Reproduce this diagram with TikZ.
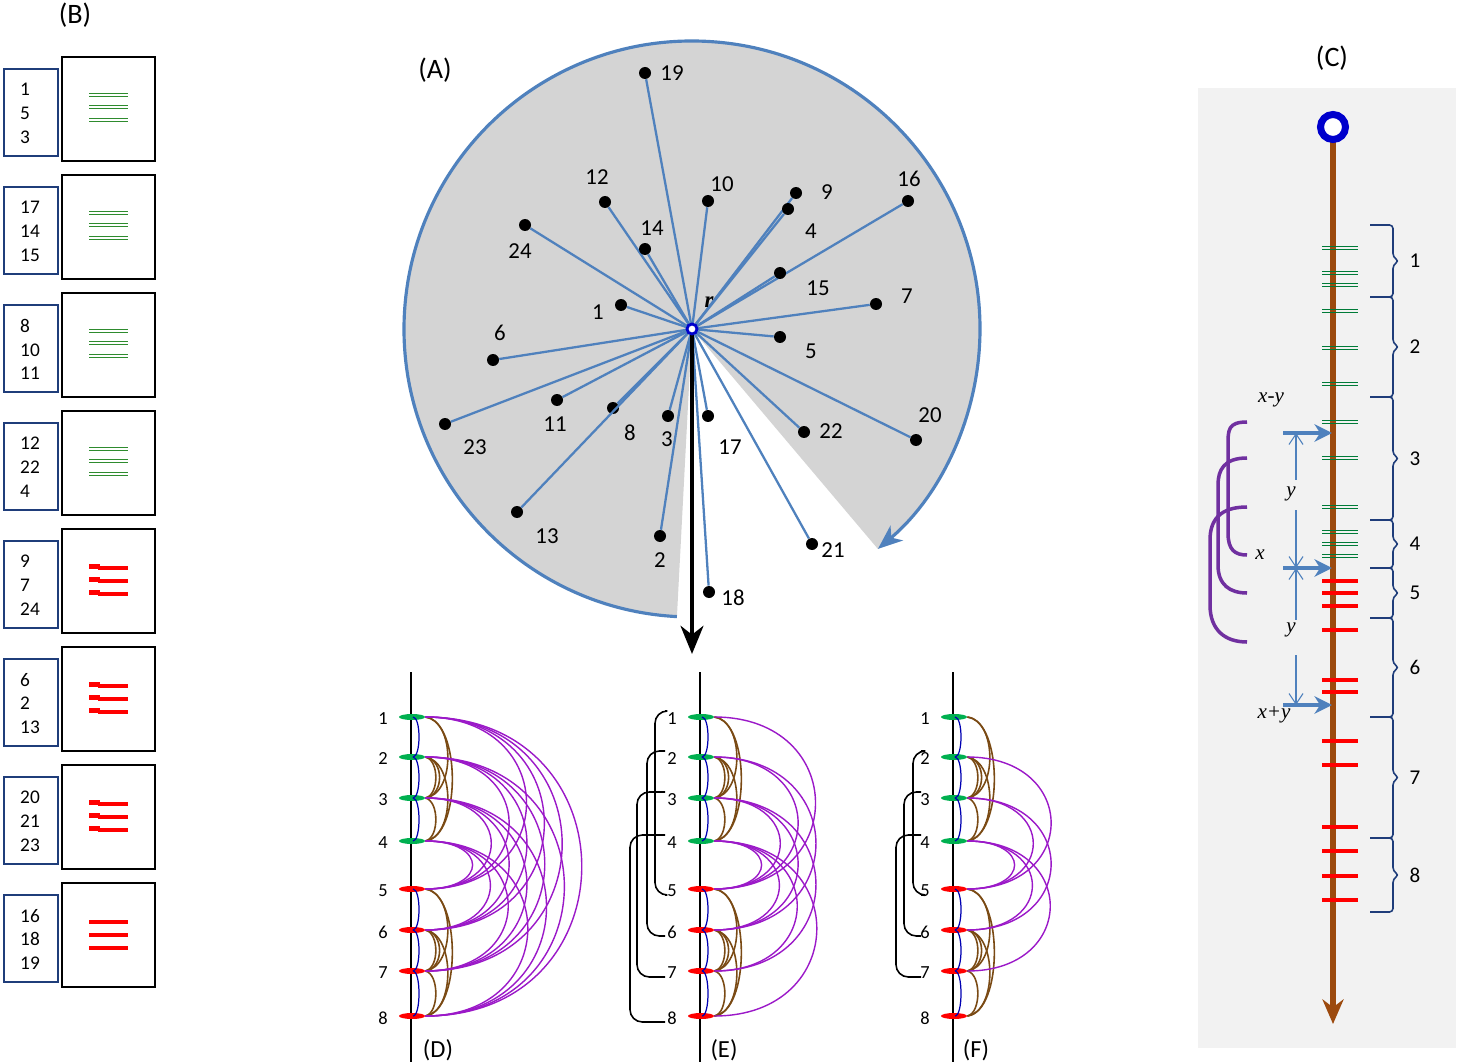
\documentclass[tikz,border=0pt]{standalone}
\usepackage{fontspec}
\setmainfont{Carlito}
\newfontfamily\tms{Liberation Serif}
\usetikzlibrary{arrows.meta,shapes.geometric,calc}
\definecolor{sb}{HTML}{4F81BD}
\definecolor{nv}{HTML}{1F3D7A}
\definecolor{gr}{HTML}{00B050}
\definecolor{dgr}{HTML}{2E8B2E}
\definecolor{pu}{HTML}{9B19C8}
\definecolor{pc}{HTML}{7030A0}
\definecolor{br}{HTML}{7A4A14}
\definecolor{brc}{HTML}{9C4A0E}
\begin{document}
\begin{tikzpicture}[x=0.02cm,y=-0.02cm,
  dot/.style={circle,fill=black,inner sep=0pt,minimum size=0.24cm},
  al/.style={font=\fontsize{13}{15}\selectfont},
  ray/.style={sb,line width=1.3pt},
  bl/.style={font=\fontsize{11}{13.5}\selectfont,align=left,anchor=north west},
  ell/.style={ellipse,inner sep=0pt,minimum width=0.52cm,minimum height=0.12cm},
  dl/.style={font=\fontsize{10.5}{12}\selectfont},
  pa/.style={pu,line width=0.8pt},
  ba/.style={br,line width=0.9pt},
  ua/.style={blue!70!black,line width=0.7pt},
  bk/.style={line width=0.9pt,rounded corners=7pt},
  big/.style={font=\fontsize{16}{18}\selectfont}]
\useasboundingbox (0,0) rectangle (1461,1064);
% ---------- (A)
\node[big] (labA) at (435,70) {(A)};
\coordinate (c) at (692,329);
\fill[black!17] (c) -- ++(93:288) arc[start angle=93,end angle=409.8,radius=288] -- cycle;
\draw[sb,line width=1.8pt,-{Stealth[length=14pt,width=11pt,inset=4pt]}] (c) ++(93:288) arc[start angle=93,end angle=409.8,radius=288] coordinate (aend);
\foreach \n/\px/\py/\lx/\ly in {19/645/73/672/73,12/605/202/597/177,10/708/201/722/184,9/796/193/827/192,4/788/209/811/231,16/908/201/909/179,14/645/249/652/228,24/525/225/520/251,15/780/273/818/288,7/876/304/907/296,1/621/305/598/312,6/493/360/500/333,5/780/337/811/351,11/557/400/555/424,8/613/408/630/433,3/668/416/667/439,17/708/416/730/447,22/804/432/831/431,20/916/440/930/415,23/445/424/475/447,13/517/512/547/536,2/660/536/660/560,21/812/544/833/550,18/709/592/733/598}{
  \node[dot] (p\n) at (\px,\py) {};
  \node[al] (t\n) at (\lx,\ly) {\n};
  \draw[ray] (c) -- (p\n);
}
\coordinate (adown) at (692,654);
\draw[line width=2.4pt,-{Stealth[length=16pt,width=13pt,inset=5pt]}] (c) -- (adown);
\node[circle,draw=blue!80!black,fill=white,line width=1.6pt,inner sep=0pt,minimum size=0.2cm] (cc) at (c) {};
\node[font=\tms\bfseries\itshape\fontsize{13}{15}\selectfont] (rr) at (709,302) {r};
% ---------- (B)
\node[big] (labB) at (75,15) {(B)};
\foreach \i/\txt/\col/\stub in {0/{1\\5\\3}/0/0,1/{17\\14\\15}/0/0,2/{8\\10\\11}/0/0,3/{12\\22\\4}/0/0,4/{9\\7\\24}/1/1,5/{6\\2\\13}/1/1,6/{20\\21\\23}/1/1,7/{16\\18\\19}/1/0}{
  \pgfmathsetmacro\t{57+118*\i}
  \draw[nv,line width=1.2pt] (4,\t+12) rectangle (58,\t+99);
  \draw[black,line width=1.4pt] (62,\t) rectangle (155,\t+104);
  \node[bl] (bt\i) at (14,\t+20) {\txt};
  \ifnum\col=0
    \foreach \d in {38,50,63}{
      \draw[dgr,line width=0.8pt] (89,\t+\d-1.6) -- (128,\t+\d-1.6);
      \draw[dgr,line width=0.8pt] (89,\t+\d+1.6) -- (128,\t+\d+1.6);}
  \else
    \foreach \d in {39,52,65}{
      \draw[red,line width=2.4pt] (98,\t+\d) -- (128,\t+\d);
      \ifnum\stub=1 \draw[red,line width=2.4pt] (89,\t+\d-1.5) -- (100,\t+\d-1.5);
      \else \draw[red,line width=2.4pt] (89,\t+\d) -- (100,\t+\d); \fi}
  \fi
}
% ---------- (C)
\node[big] (labC) at (1332,58) {(C)};
\fill[black!5] (1198,88) rectangle (1456,1048);
\coordinate (ctop) at (1333,127);
\coordinate (cbot) at (1333,1024);
\draw[brc,line width=3.2pt,-{Stealth[length=14pt,width=12pt]}] (ctop) -- (cbot);
\node[circle,draw=blue!80!black,fill=white,line width=4pt,inner sep=0pt,minimum size=0.5cm] (ring) at (ctop) {};
\foreach \y in {248,273,285,311,348,384,422,458,507,532,544,556}{
  \draw[gr!70!black,line width=0.9pt] (1322,\y-1.7) -- (1358,\y-1.7);
  \draw[gr!70!black,line width=0.9pt] (1322,\y+1.7) -- (1358,\y+1.7);}
\foreach \y in {581,593,606,630,680,692,741,765,827,851,876,900}{
  \draw[red,line width=2.2pt] (1322,\y) -- (1358,\y);}
\foreach \a/\b/\lab in {225/297/1,297/397/2,397/520/3,520/568/4,568/618/5,618/717/6,717/838/7,838/912/8}{
  \pgfmathsetmacro\m{(\a+\b)/2}
  \draw[nv,line width=0.9pt,rounded corners=2pt] (1370,\a) -- (1393,\a) -- (1393,\m-4) -- (1399,\m) -- (1393,\m+4) -- (1393,\b) -- (1370,\b);
  \node[font=\fontsize{12}{14}\selectfont] (bl\lab) at (1415,\m) {\lab};
}
\foreach \y/\n in {433/1,568/2,705/3}{
  \coordinate (ba\n) at (1283,\y);
  \coordinate (bb\n) at (1332,\y);
  \draw[sb,line width=2.6pt,-{Stealth[length=10pt,width=10pt]}] (ba\n) -- (bb\n);}
\begin{scope}[sb,line width=0.6pt]
 \draw[{Straight Barb[length=6pt,width=8pt]}-] (1296,433) -- (1296,480);
 \draw[-{Straight Barb[length=6pt,width=8pt]}] (1296,510) -- (1296,568);
 \draw[{Straight Barb[length=6pt,width=8pt]}-] (1296,568) -- (1296,620);
 \draw[-{Straight Barb[length=6pt,width=8pt]}] (1296,655) -- (1296,705);
\end{scope}
\begin{scope}[font=\tms\itshape\fontsize{12}{14}\selectfont]
 \node (lxy) at (1271,400) {x-y};
 \node (ly1) at (1291,494) {y};
 \node (lx) at (1260,555) {x};
 \node (ly2) at (1291,630) {y};
 \node (lxpy) at (1274,715) {x+y};
\end{scope}
\begin{scope}[pc,line width=2pt]
 \draw (1247,422) .. controls (1228,422) and (1228,430) .. (1228,445) -- (1228,533) .. controls (1228,550) and (1235,555) .. (1247,555);
 \draw (1247,458) .. controls (1224,458) and (1218,470) .. (1218,485) -- (1218,565) .. controls (1218,585) and (1230,593) .. (1247,593);
 \draw (1247,507) .. controls (1220,507) and (1210,520) .. (1210,540) -- (1210,605) .. controls (1210,630) and (1225,642) .. (1247,642);
\end{scope}
% ---------- (D),(E),(F)
\foreach \P/\X/\set in {D/411/{1/5,1/6,1/7,1/8,2/5,2/6,2/7,2/8,3/5,3/6,3/7,3/8,4/5,4/6,4/7,4/8},E/700/{1/5,2/5,2/6,3/5,3/6,3/7,4/5,4/6,4/7,4/8},F/953/{2/5,3/5,3/6,4/5,4/6,4/7}}{
  \coordinate (\P top) at (\X,672);
  \coordinate (\P bot) at (\X,1062);
  \draw[line width=1.2pt] (\P top) -- (\P bot);
  \foreach \k/\y in {1/717,2/757,3/798,4/841,5/889,6/930,7/971,8/1016}{
    \ifnum\k<5 \node[ell,fill=gr] (\P\k) at (\X+1,\y) {};
    \else \node[ell,fill=red] (\P\k) at (\X+1,\y) {}; \fi
    \coordinate (\P c\k) at (\X+2,\y);
    \node[dl,anchor=east] (\P l\k) at (\X-17,\y+2) {\k};
  }
  \foreach \a/\b in {1/2,2/3,3/4,5/6,6/7,7/8}{
    \draw[ua] (\P c\a) .. controls +(8,0) and +(8,0) .. (\P c\b);}
  \foreach \a/\b/\d in {1/3/30,1/4/36,2/4/30,5/7/30,5/8/36,6/8/30}{
    \draw[ba] (\P\a.east) .. controls +(\d,4) and +(\d,-4) .. (\P\b.east);}
  \foreach \a/\b/\d in {2/3/14,2/3/19,3/4/14,6/7/14,6/7/19,7/8/14}{
    \draw[ba] (\P\a.east) .. controls +(\d,3) and +(\d,-3) .. (\P\b.east);}
  \foreach \a/\b in \set {
    \draw[pa] let \p1=(\P\a), \p2=(\P\b), \n1={(20+0.58*abs(\y1-\y2))} in
      (\P\a.east) .. controls +(\n1,0) and +(\n1,0) .. (\P\b.east);}
}
\node[font=\fontsize{14}{16}\selectfont] (lD) at (438,1050) {(D)};
\node[font=\fontsize{14}{16}\selectfont] (lE) at (724,1050) {(E)};
\node[font=\fontsize{14}{16}\selectfont] (lF) at (976,1050) {(F)};
% black brackets
\foreach \ya/\yb/\xx in {711/895/655,751/936/647,792/977/637,835/1022/630}{
  \draw[bk] (665,\ya) -- (\xx,\ya) -- (\xx,\yb) -- (665,\yb);
}
\foreach \ya/\yb/\xx in {751/895/913,792/936/904,835/977/896}{
  \draw[bk] (921,\ya) -- (\xx,\ya) -- (\xx,\yb) -- (921,\yb);
}
\end{tikzpicture}
\end{document}
